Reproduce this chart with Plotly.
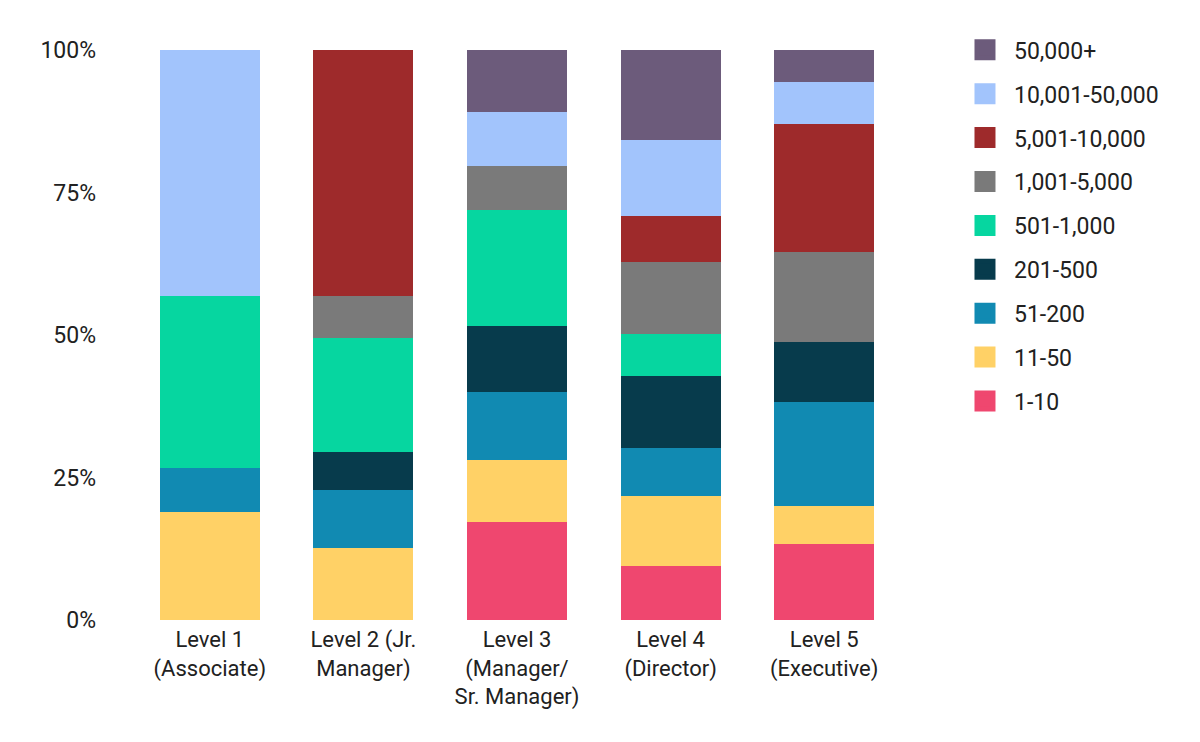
import plotly.graph_objects as go

levels = [
    "Level 1<br>(Associate)",
    "Level 2 (Jr.<br>Manager)",
    "Level 3<br>(Manager/<br>Sr. Manager)",
    "Level 4<br>(Director)",
    "Level 5<br>(Executive)",
]

# company size buckets, bottom of the stack first
sizes = ["1-10", "11-50", "51-200", "201-500", "501-1,000",
         "1,001-5,000", "5,001-10,000", "10,001-50,000", "50,000+"]

colors = ["#ef476f", "#ffd166", "#118ab2", "#073b4c", "#06d6a0",
          "#7a7a7a", "#9e2a2b", "#a2c4fc", "#6c5b7b"]

# share of respondents (%) per level, one list per size bucket
share_1_10 = [0, 0, 17.2, 9.5, 13.3]
share_11_50 = [18.9, 12.6, 10.9, 12.3, 6.7]
share_51_200 = [7.7, 10.2, 11.9, 8.4, 18.2]
share_201_500 = [0, 6.7, 11.6, 12.6, 10.5]
share_501_1000 = [30.2, 20.0, 20.4, 7.4, 0]
share_1001_5000 = [0, 7.4, 7.7, 12.6, 15.8]
share_5001_10000 = [0, 43.2, 0, 8.1, 22.5]
share_10001_50000 = [43.2, 0, 9.5, 13.3, 7.4]
share_50000_plus = [0, 0, 10.9, 15.8, 5.6]

series = [share_1_10, share_11_50, share_51_200, share_201_500, share_501_1000,
          share_1001_5000, share_5001_10000, share_10001_50000, share_50000_plus]

y_ticks = [0, 25, 50, 75, 100]
y_labels = ["0%", "25%", "50%", "75%", "100%"]

fig = go.Figure()

for name, vals, col in zip(sizes, series, colors):
    fig.add_trace(go.Bar(
        x=levels, y=vals, name=name,
        marker=dict(color=col, line=dict(width=0),
                    cornerradius=4 if name == "50,000+" else 0),
        showlegend=False,
    ))

# legend proxies so the swatches can be larger than plotly's bar swatch
for name, col in reversed(list(zip(sizes, colors))):
    fig.add_trace(go.Scatter(
        x=[None], y=[None], mode="markers", name=name, legendgroup=name,
        marker=dict(symbol="square", size=16, color=col,
                    line=dict(color=col, width=5)),
    ))

fig.update_layout(
    barmode="stack",
    barnorm="percent",
    bargap=0.35,
    width=1200, height=742,
    margin=dict(l=133, r=299, t=50, b=122),
    paper_bgcolor="white",
    plot_bgcolor="white",
    font=dict(family="Roboto", size=23, color="#212121"),
    legend=dict(
        x=1.0716, xanchor="left", y=1.038, yanchor="top",
        traceorder="grouped", tracegroupgap=11, itemwidth=48,
        maxheight=1,
        font=dict(size=23, color="#212121"),
    ),
    xaxis=dict(showgrid=False, showline=False, ticks="",
               ticklabelstandoff=4, tickfont=dict(size=22)),
    yaxis=dict(range=[0, 100], tickmode="array", tickvals=y_ticks, ticktext=y_labels,
               showgrid=False, zeroline=False, showline=False,
               ticklabelstandoff=36, tickfont=dict(size=23)),
)

fig.write_html("out.html", config={"displayModeBar": False},
               post_script="document.body.style.margin='0';")
